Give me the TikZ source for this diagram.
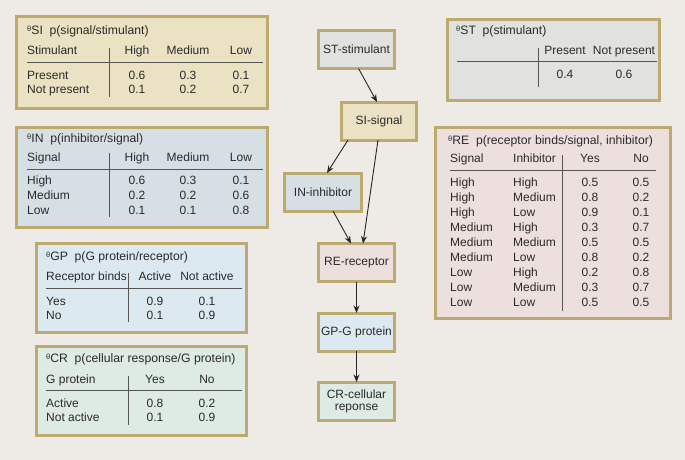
\documentclass[tikz,border=0pt]{standalone}
\usepackage{fontspec}
\setmainfont{Liberation Sans}
\usetikzlibrary{arrows.meta}
\definecolor{bgc}{HTML}{EEEAE6}
\definecolor{bord}{HTML}{BDAA6E}
\definecolor{tanc}{HTML}{EAE2C2}
\definecolor{bgrayc}{HTML}{D6E0E4}
\definecolor{lbluec}{HTML}{DCE9F1}
\definecolor{lgreenc}{HTML}{DEEAE4}
\definecolor{grayc}{HTML}{E1E1E0}
\definecolor{pinkc}{HTML}{EEDFDF}
\definecolor{rulec}{HTML}{555555}
\definecolor{txtc}{HTML}{2A2A2A}
\newcommand\tabfont{\fontsize{12}{14}\selectfont}
\newcommand\thsup{\raisebox{0.5ex}{\fontsize{7.5}{7.5}\selectfont θ}}
\tikzset{
  tablebox/.style={draw=bord, line width=3pt},
  flow/.style={draw=bord, line width=3pt, minimum width=76pt, minimum height=38pt, inner sep=1pt, align=center, font=\tabfont, text=txtc},
  tl/.style={anchor=mid west, inner sep=0pt, font=\tabfont, text=txtc},
  tc/.style={anchor=mid, inner sep=0pt, font=\tabfont, text=txtc},
  ttl/.style={anchor=mid west, inner sep=0pt, font=\fontsize{12.2}{14}\selectfont, text=txtc},
  tabrule/.style={draw=rulec, line width=0.9pt},
  conn/.style={draw=black!85, line width=0.9pt, -{Stealth[length=7.5pt,width=6pt]}}
}
\begin{document}
\begin{tikzpicture}[x=1pt,y=-1pt]
\fill[bgc] (0,0) rectangle (685,460);
\useasboundingbox (0,0) rectangle (685,460);

% ---------- SI table
\draw[tablebox, fill=tanc] (16.5,16.5) rectangle (267.5,108.5);
\node[ttl] (si-title) at (27,32) {\thsup SI\hspace{0.55em}p(signal/stimulant)};
\node[tl] (si-h0) at (27,52) {Stimulant};
\node[tc] (si-h1) at (137,52) {High};
\node[tc] (si-h2) at (188,52) {Medium};
\node[tc] (si-h3) at (241,52) {Low};
\draw[tabrule] (27,62) -- (263,62);
\draw[tabrule] (109,48) -- (109,97);
\foreach \a/\b/\c/\d/\y [count=\i] in {Present/0.6/0.3/0.1/77, Not present/0.1/0.2/0.7/91} {
  \node[tl] (si-r\i a) at (27,\y) {\a};
  \node[tc] (si-r\i b) at (137,\y) {\b};
  \node[tc] (si-r\i c) at (188,\y) {\c};
  \node[tc] (si-r\i d) at (241,\y) {\d};
}

% ---------- IN table
\draw[tablebox, fill=bgrayc] (16.5,127.5) rectangle (267.5,227.5);
\node[ttl] (in-title) at (27,140) {\thsup IN\hspace{0.55em}p(inhibitor/signal)};
\node[tl] (in-h0) at (27,159) {Signal};
\node[tc] (in-h1) at (137,159) {High};
\node[tc] (in-h2) at (188,159) {Medium};
\node[tc] (in-h3) at (241,159) {Low};
\draw[tabrule] (27,169) -- (263,169);
\draw[tabrule] (109,153) -- (109,217);
\foreach \a/\b/\c/\d/\y [count=\i] in {High/0.6/0.3/0.1/182, Medium/0.2/0.2/0.6/197, Low/0.1/0.1/0.8/212} {
  \node[tl] (in-r\i a) at (27,\y) {\a};
  \node[tc] (in-r\i b) at (137,\y) {\b};
  \node[tc] (in-r\i c) at (188,\y) {\c};
  \node[tc] (in-r\i d) at (241,\y) {\d};
}

% ---------- GP table
\draw[tablebox, fill=lbluec] (36.5,243.5) rectangle (246.5,332.5);
\node[ttl] (gp-title) at (46,258) {\thsup GP\hspace{0.55em}p(G protein/receptor)};
\node[tl] (gp-h0) at (46,278) {Receptor binds};
\node[tc] (gp-h1) at (155,278) {Active};
\node[tc] (gp-h2) at (207,278) {Not active};
\draw[tabrule] (46,288) -- (242,288);
\draw[tabrule] (128,273) -- (128,322);
\foreach \a/\b/\c/\y [count=\i] in {Yes/0.9/0.1/303, No/0.1/0.9/317} {
  \node[tl] (gp-r\i a) at (46,\y) {\a};
  \node[tc] (gp-r\i b) at (155,\y) {\b};
  \node[tc] (gp-r\i c) at (207,\y) {\c};
}

% ---------- CR table
\draw[tablebox, fill=lgreenc] (36.5,346.5) rectangle (246.5,435.5);
\node[ttl] (cr-title) at (46,360) {\thsup CR\hspace{0.55em}p(cellular response/G protein)};
\node[tl] (cr-h0) at (46,381) {G protein};
\node[tc] (cr-h1) at (155,381) {Yes};
\node[tc] (cr-h2) at (207,381) {No};
\draw[tabrule] (46,390) -- (242,390);
\draw[tabrule] (128,376) -- (128,425);
\foreach \a/\b/\c/\y [count=\i] in {Active/0.8/0.2/405, Not active/0.1/0.9/419} {
  \node[tl] (cr-r\i a) at (46,\y) {\a};
  \node[tc] (cr-r\i b) at (155,\y) {\b};
  \node[tc] (cr-r\i c) at (207,\y) {\c};
}

% ---------- ST table
\draw[tablebox, fill=grayc] (447.5,19.5) rectangle (659.5,100.5);
\node[ttl] (st-title) at (456,32) {\thsup ST\hspace{0.55em}p(stimulant)};
\node[tc] (st-h1) at (565,52) {Present};
\node[tc] (st-h2) at (624,52) {Not present};
\draw[tabrule] (457,61) -- (657,61);
\draw[tabrule] (538,48) -- (538,87);
\node[tc] (st-r1b) at (565,76) {0.4};
\node[tc] (st-r1c) at (624,76) {0.6};

% ---------- RE table
\draw[tablebox, fill=pinkc] (435.5,127.5) rectangle (670.5,318.5);
\node[ttl] (re-title) at (448,142) {\thsup RE\hspace{0.55em}p(receptor binds/signal, inhibitor)};
\node[tl] (re-h0) at (450,160) {Signal};
\node[tl] (re-h1) at (513,160) {Inhibitor};
\node[tc] (re-h2) at (590,160) {Yes};
\node[tc] (re-h3) at (641,160) {No};
\draw[tabrule] (450,170) -- (656,170);
\draw[tabrule] (562,155) -- (562,311);
\foreach \a/\b/\c/\d [count=\i] in {High/High/0.5/0.5, High/Medium/0.8/0.2, High/Low/0.9/0.1, Medium/High/0.3/0.7, Medium/Medium/0.5/0.5, Medium/Low/0.8/0.2, Low/High/0.2/0.8, Low/Medium/0.3/0.7, Low/Low/0.5/0.5} {
  \pgfmathsetmacro\yy{169+15*\i}
  \node[tl] (re-r\i a) at (450,\yy) {\a};
  \node[tl] (re-r\i b) at (513,\yy) {\b};
  \node[tc] (re-r\i c) at (590,\yy) {\c};
  \node[tc] (re-r\i d) at (641,\yy) {\d};
}

% ---------- flow nodes
\node[flow, fill=grayc] (st) at (356.5,49.5) {ST-stimulant};
\node[flow, fill=tanc, minimum width=75pt] (si) at (379,121) {SI-signal};
\node[flow, fill=bgrayc, minimum width=77pt] (in) at (323,192) {IN-inhibitor};
\node[flow, fill=pinkc] (re) at (356.5,262.5) {RE-receptor};
\node[flow, fill=lbluec] (gp) at (356.5,332) {GP-G protein};
\node[flow, fill=lgreenc] (cr) at (356.5,401) {CR-cellular\\[-2pt]reponse};

% ---------- connectors
\draw[conn] ([xshift=2pt,yshift=1.5pt]st.south) -- ([xshift=-2pt,yshift=-1.5pt]si.north);
\draw[conn] ([xshift=-31pt,yshift=1.5pt]si.south) -- ([xshift=4pt,yshift=-1.5pt]in.north);
\draw[conn] ([xshift=-1pt,yshift=1.5pt]si.south) -- ([xshift=6.5pt,yshift=-1.5pt]re.north);
\draw[conn] ([xshift=10pt,yshift=1.5pt]in.south) -- ([xshift=-5.5pt,yshift=-1.5pt]re.north);
\draw[conn] ([yshift=1.5pt]re.south) -- ([yshift=-1.5pt]gp.north);
\draw[conn] ([yshift=1.5pt]gp.south) -- ([yshift=-1.5pt]cr.north);
\end{tikzpicture}
\end{document}
